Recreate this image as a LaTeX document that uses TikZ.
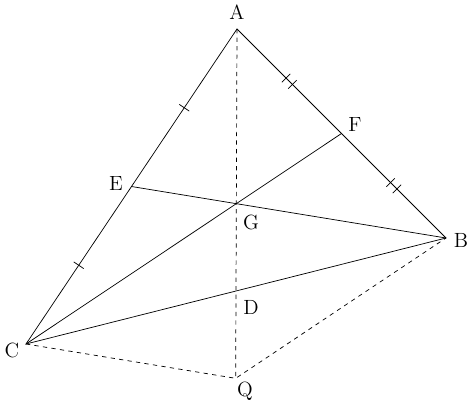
\documentclass[tikz,border=0pt]{standalone}
\usetikzlibrary{calc}
\tikzset{
    tick/.style={line width=0.5pt},
    hidden/.style={dashed}
}
\begin{document}
\begin{tikzpicture}[x=0.7pt,y=-0.7pt,line width=0.5pt]
\useasboundingbox (0,0) rectangle (474,401);
\coordinate (A) at (237,29);
\coordinate (B) at (446,238);
\coordinate (C) at (26,344);
\coordinate (E) at ($(A)!0.5!(C)$);
\coordinate (F) at ($(A)!0.5!(B)$);
\coordinate (D) at ($(B)!0.5!(C)$);
\coordinate (G) at ($(C)!2/3!(F)$);
\coordinate (Q) at ($(G)!2!(D)$);
\draw (A) -- (B) -- (C) -- cycle;
\draw (C) -- (F);
\draw (B) -- (E);
\begin{scope}[hidden]
    \draw (A) -- (Q);
    \draw (C) -- (Q) -- (B);
\end{scope}
% equal halves
\foreach \p/\q in {A/E,E/C}{
    \coordinate (M) at ($(\p)!0.5!(\q)$);
    \draw[tick] ($(M)!4.2pt!90:(\p)$) -- ($(M)!4.2pt!-90:(\p)$);
}
\foreach \p/\q in {A/F,F/B}{
    \foreach \s in {0.47,0.53}{
        \coordinate (M) at ($(\p)!\s!(\q)$);
        \draw[tick] ($(M)!4.2pt!90:(\p)$) -- ($(M)!4.2pt!-90:(\p)$);
    }
}
\begin{scope}[every node/.style={inner sep=1pt,font=\Large}]
    \node (lA) at (237,12) {A};
    \node (lB) at (461,240) {B};
    \node (lC) at (12,350) {C};
    \node (lE) at (116,183) {E};
    \node (lF) at (355,124) {F};
    \node (lG) at (251,222) {G};
    \node (lD) at (251,307) {D};
    \node (lQ) at (245,391) {Q};
\end{scope}
\end{tikzpicture}
\end{document}
